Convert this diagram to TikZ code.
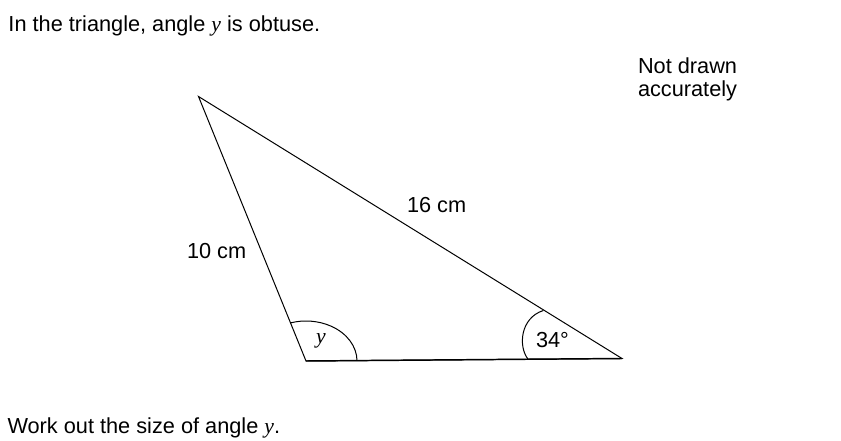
\documentclass[tikz,border=0pt]{standalone}
\usepackage{fontspec}
\setmainfont{Liberation Sans}
\newfontfamily\serifit{Liberation Serif}
\newcommand{\angy}{{\serifit\itshape y}}

\tikzset{every picture/.style={line width=0.75pt}}
\tikzset{lbl/.style={anchor=base west,inner sep=0pt}}

\begin{document}
\begin{tikzpicture}[x=0.75pt,y=0.75pt,yscale=-1,xscale=1,font=\fontsize{16.3}{19}\selectfont]
%set diagram left start at 0, and has height of 441
\useasboundingbox (0,0) rectangle (841,441);

%Shape: Polygon
\coordinate (A) at (198.5,96.5);
\coordinate (B) at (306,361);
\coordinate (C) at (622,358.5);
\draw (A) -- (B) -- (C) -- cycle ;
\draw [line width=1.1pt] (B) -- (C) ;
%Arc at B
\draw (B) ++(-0.5:51 and 40) arc [start angle=-0.5,end angle=-108,x radius=51,y radius=40] ;
%Arc at C
\draw (528.3,359.5) .. controls (518,347) and (520,318) .. (543.3,310.5) ;

% Text Node
\node [lbl] (title) at (8,31.7) {In the triangle, angle \angy\ is obtuse.};
% Text Node
\node [lbl] (nd1) at (637.5,74) {Not drawn};
% Text Node
\node [lbl] (nd2) at (637.5,96.7) {accurately};
% Text Node
\node [lbl] (ab) at (186.5,258.5) {10 cm};
% Text Node
\node [lbl] (ac) at (406.5,212.3) {16 cm};
% Text Node
\node [lbl] (angB) at (315.5,343) {\angy};
% Text Node
\node [lbl] (angC) at (535.5,347.7) {34°};
% Text Node
\node [lbl] (task) at (7,433.3) {Work out the size of angle \angy.};

\end{tikzpicture}
\end{document}
